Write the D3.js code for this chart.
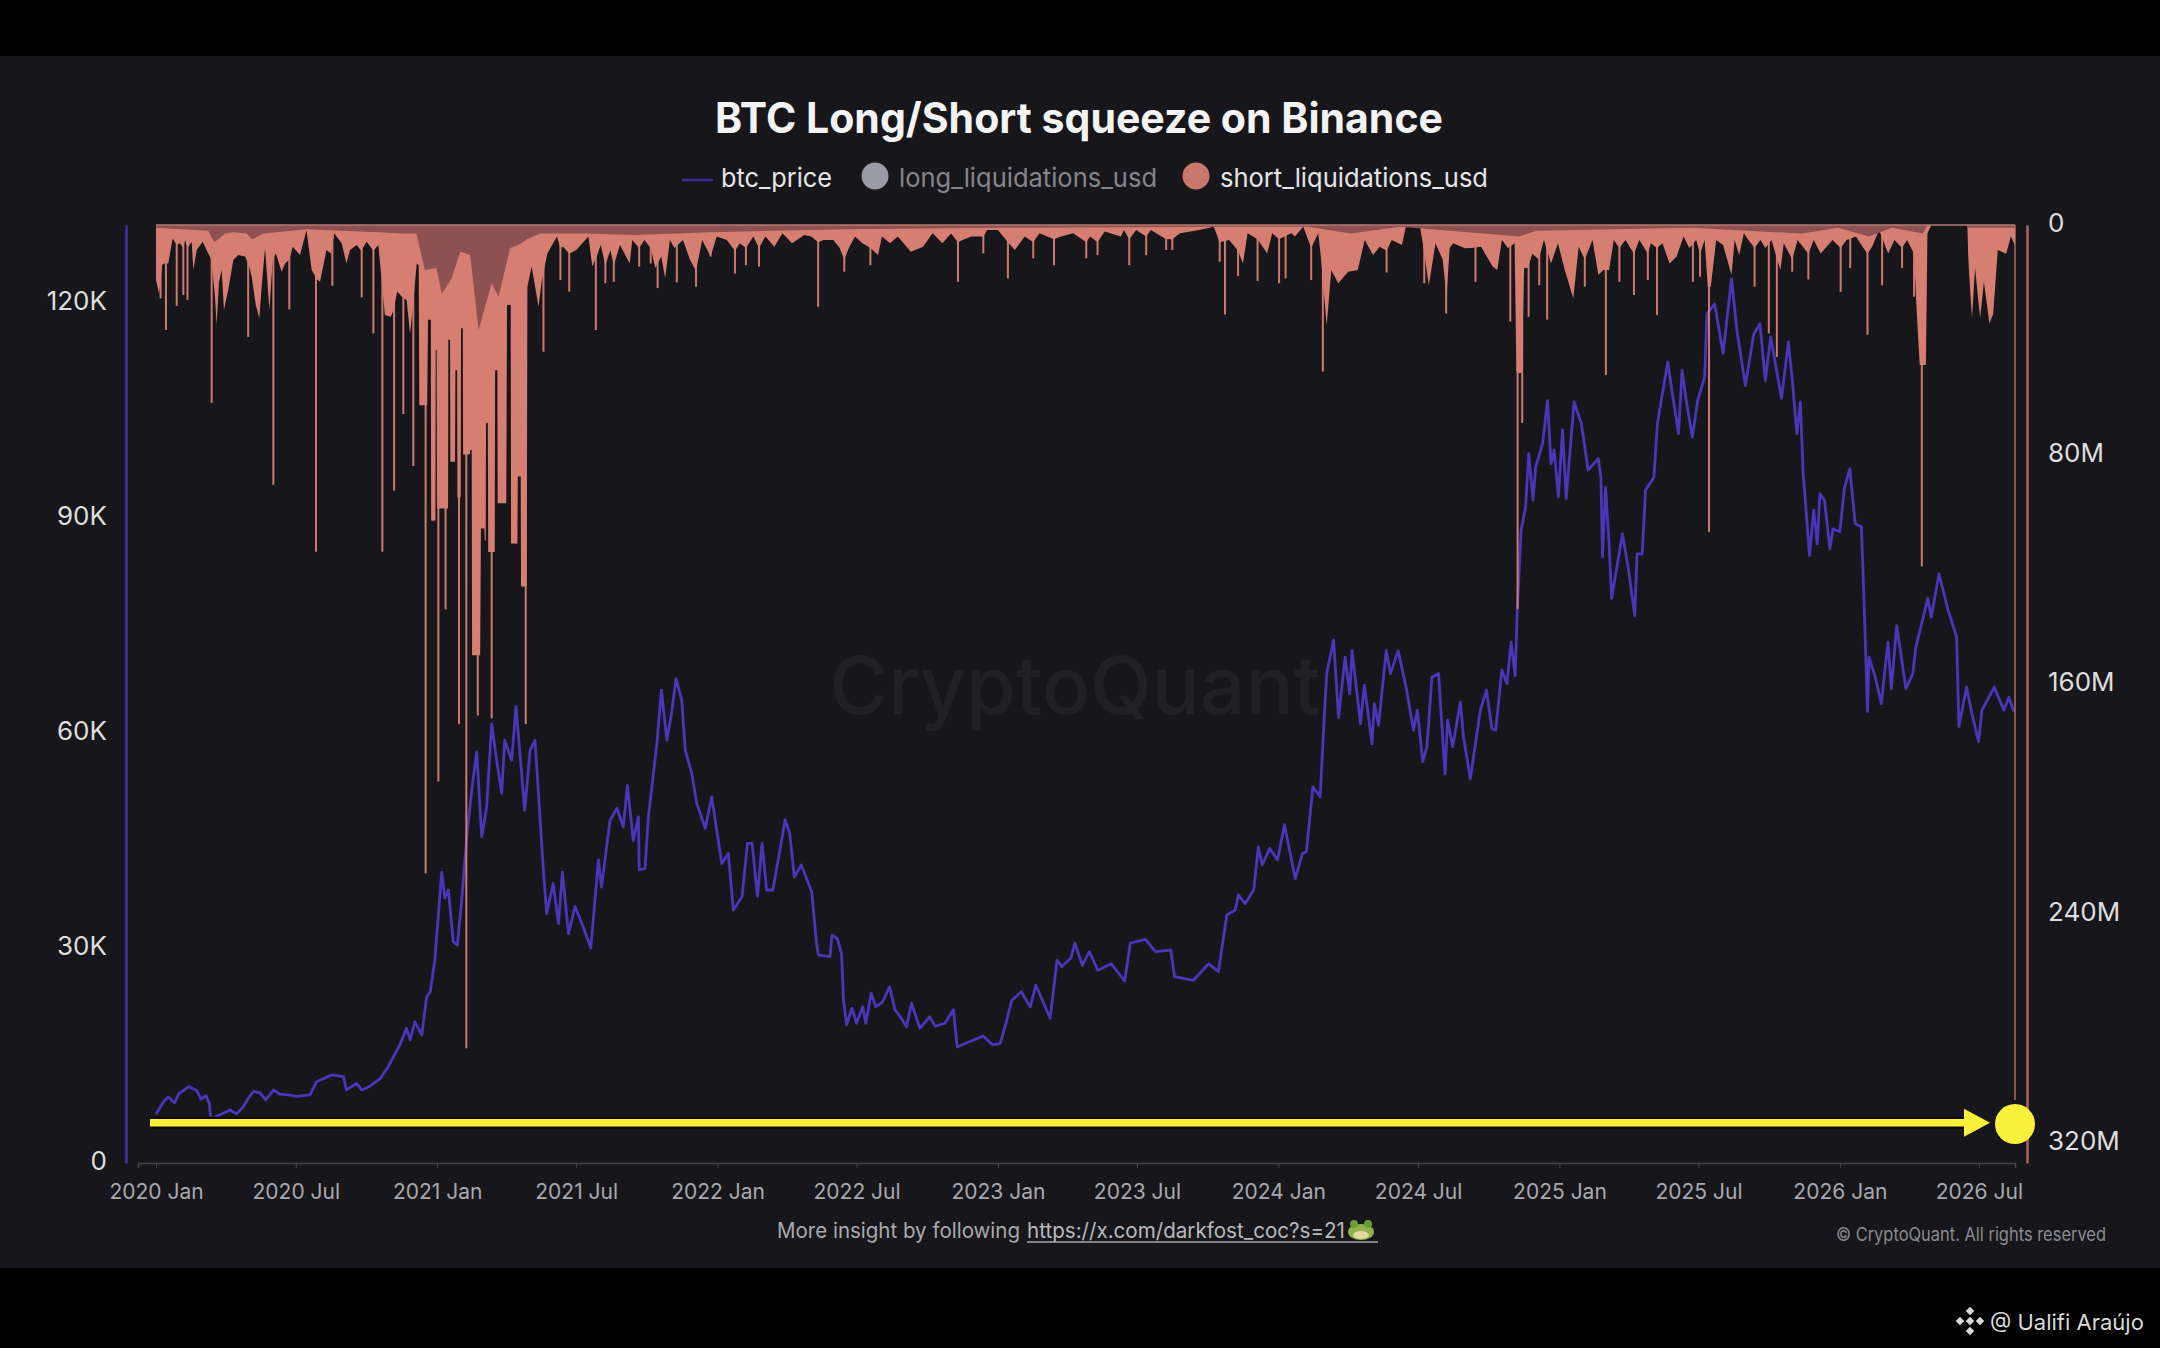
<!DOCTYPE html>
<html>
<head>
<meta charset="utf-8">
<script src="https://cdn.jsdelivr.net/npm/d3@7"></script>
<style>
  html, body { margin: 0; padding: 0; background: #000; overflow: hidden; }
  text { font-family: Inter, Roboto, sans-serif; }
</style>
</head>
<body>
<div id="chart-container"></div>
<script>
// Values. Days are counted from 2020-01-01.
const firstDay = Date.UTC(2020, 0, 1);
const xTickMonths = [[2020,0],[2020,6],[2021,0],[2021,6],[2022,0],[2022,6],[2023,0],[2023,6],[2024,0],[2024,6],[2025,0],[2025,6],[2026,0],[2026,6]];
const priceTicks = [0, 30000, 60000, 90000, 120000];
const liqTicks = [0, 80, 160, 240, 320];

// btc_price: [day, thousand USD]
const btcPrice = [[0,6.8],[10,8.6],[16,9.2],[24,8.4],[30,9.7],[43,10.65],[53,10.1],[59,8.9],[65,9.4],[69.5,8.3],[72,5.2],[78,6.5],[85.5,6.85],[96.4,7.4],[105,6.85],[114,7.9],[120,9],[127,10],[135.4,9.8],[143,8.8],[153,10.2],[161.5,9.6],[172,9.5],[183,9.3],[200.5,9.5],[209,11.35],[229,12.3],[244,12.05],[248,10.2],[261,11.1],[268,10.2],[279,10.75],[292,11.8],[302,13.4],[309,14.8],[317.6,16.5],[326,18.8],[331,17.2],[337,19.7],[346,17.9],[352.4,23.2],[357,23.9],[363,28.3],[372,40.6],[376,37],[380.6,38.1],[387,30.9],[392.3,30.4],[398,36.7],[405,46],[411,52],[417.5,57.4],[424,45.5],[430.5,49.7],[437,61.3],[443.5,56.2],[450,51.6],[454,59],[463,56.2],[468.7,63.7],[480,49.2],[487,57.6],[493.4,59],[504,41.3],[508.6,34.8],[517,39],[524,33.4],[529,40.6],[537,32],[545.5,35.8],[556,33],[566,30],[576,42.3],[580,38.5],[591,47.8],[600,49.5],[608.4,46.9],[613.6,52.7],[621.4,45],[628,48.3],[629,40.9],[636.6,41.1],[641,48.3],[652,58.5],[658,66],[665,59],[671,62.7],[677,67.6],[684.4,64.6],[689,57.6],[697.4,54.4],[704,50.2],[715,46.7],[723.4,51.1],[730,46.4],[736.5,41.8],[745,43.2],[751.6,35.3],[763,37.2],[770,44.6],[776,44.6],[783,37.2],[789,44.6],[795,38.1],[803,38.1],[810,42.3],[819,47.9],[825,46],[831,39.9],[840,41.6],[853.5,37.9],[860,30.6],[862.5,29],[877.4,28.8],[880,31.8],[887,31.3],[892.4,29.2],[895,22.7],[899,19.3],[906,21.6],[912,19.5],[920,21.8],[924,19.5],[931,23.7],[937,21.8],[946,22.5],[955,24.6],[962,21.4],[970,20.2],[977,19],[983.5,22.3],[994.5,18.8],[1007,20.4],[1014.4,19.1],[1027,19.5],[1038,21.4],[1043,16.2],[1054,16.7],[1077,17.7],[1089,16.5],[1099,16.7],[1106.5,19.5],[1114,22.7],[1126.4,23.9],[1138,21.8],[1145.4,24.8],[1164,20.2],[1173,28.3],[1179,27.4],[1191,28.6],[1196,30.7],[1206,27.6],[1215,29.5],[1226,26.9],[1243.5,27.8],[1261,25.4],[1268.4,30.7],[1288,31.2],[1301,29.5],[1321,29.7],[1326,26],[1350.5,25.5],[1370.4,27.8],[1383,26.7],[1394,34.6],[1405,35.3],[1409,37.4],[1418,36.2],[1429,38.1],[1435,44.1],[1440,41.6],[1450,43.9],[1460,42.3],[1469,47.2],[1483,39.7],[1492.5,43.2],[1497.5,43.4],[1506,52.5],[1515.5,51.1],[1521,62.7],[1524,68.3],[1533,73],[1539.4,62.2],[1548,70.6],[1554,65.5],[1557,71.5],[1568,61.3],[1573,66.7],[1583,58.5],[1586,64.1],[1591.5,61.1],[1601.5,71.5],[1607,68.3],[1617,71.5],[1628,66],[1637,60.4],[1642,63.2],[1649,56],[1654.4,58],[1661,67.8],[1669.6,68.3],[1678,54.3],[1681.3,61.8],[1688,58.1],[1698,64.3],[1702,59.5],[1711,53.6],[1724,63.2],[1732,66],[1739,60.6],[1744,60.4],[1752,68.8],[1758.6,66.9],[1764,72.7],[1769.4,68],[1772,77.1],[1777,88.3],[1783,91.6],[1787,99],[1792.6,92.5],[1796,97.1],[1805,100.4],[1811.5,106.4],[1816,97.6],[1820,99.5],[1825.6,93],[1831,102.3],[1835.7,92.7],[1846,106.2],[1855.5,103.2],[1864.3,96.7],[1877.5,98.3],[1881,95.7],[1883,84.6],[1887,94.3],[1891.6,86.4],[1895,78.8],[1909,87.8],[1917,82.7],[1925,76.4],[1928,85],[1934.7,85],[1939,93.9],[1950,95.7],[1954.5,103.2],[1968,111.8],[1972,108.8],[1982,101.8],[1986.6,110.6],[1992,106.4],[2000,101.3],[2007,106.4],[2016,109.7],[2019,118.5],[2029,119.9],[2040,113],[2051,123.4],[2058,116.2],[2069,108.5],[2080,115.7],[2088,117.1],[2095,109.2],[2102,115.3],[2116,106.7],[2125,114.6],[2130.5,108.8],[2136,101.8],[2140.6,106.2],[2144,96.7],[2152.5,84.8],[2158,91.1],[2162.6,86.4],[2166,93.4],[2172,92.5],[2179,85.7],[2183,88.5],[2192,88.1],[2197.8,94.1],[2205,96.9],[2212,89.2],[2220,88.8],[2223,80],[2228,63],[2230,70.6],[2238,67.8],[2246,64.1],[2254.6,72.7],[2259,66.2],[2266,75],[2278,66.2],[2287,68.3],[2291,72],[2306.5,78.8],[2311,76.2],[2321,82.2],[2333,77.1],[2344,73.4],[2347,60.9],[2357,66.4],[2364,62.7],[2372.5,58.8],[2377,63.2],[2393,66.4],[2405.5,63.2],[2412,65],[2418.7,63]];

// short_liquidations_usd, million USD: the everyday level, [day, value]
const shortLevel = [[0,19],[4,24],[8,14],[10.4,13.4],[16,13.4],[21.7,4.7],[27,7],[31,6.4],[35.6,8],[37.8,5.2],[41,8],[46.5,5.8],[48.6,15.7],[53,8.7],[60.8,5.8],[68,9.9],[72,12],[76.8,25],[79,34.9],[82,20],[85.5,15.7],[88.5,29.6],[94,22.7],[100.7,12.2],[107,10.5],[116,11],[121,14],[124.6,18],[130,28],[134.6,32.5],[138,20],[142,8.1],[147.6,29.6],[152,12],[156,9.9],[163.6,16.3],[168,13.4],[173.6,12],[178,7.6],[187.5,10.5],[196,1.8],[202.7,15.7],[210,19],[213.5,19.8],[222,8.7],[228,10],[232,2.9],[241.7,6.4],[248,13.4],[252.6,8.7],[261.3,7],[267,9],[274.3,5.8],[283,9],[289.5,7],[298,31.4],[305.5,32],[309,30],[314,23.2],[320,25],[326.4,26.2],[330.7,37.8],[334,30],[339.4,13.4],[342,14],[342.8,62.8],[353,62.8],[354.2,33],[357.8,33],[358.2,103],[363.8,103],[364.2,43.6],[365.4,43.6],[365.8,98.8],[380.2,98.8],[380.6,40],[382.8,40],[383.2,82.5],[389.3,82.5],[389.8,50.6],[392,50.6],[392.4,95],[396.7,95],[397.1,36],[399.4,36],[399.8,80],[408.5,80],[409,78.4],[411,78.4],[411.5,150],[422,150],[423,105.8],[427.5,105.8],[428,110],[429.2,110],[429.7,69],[432,69],[432.5,114],[441,114],[441.5,50.6],[444.4,50.6],[444.8,97],[456,97],[457,27.9],[461.8,27.9],[462.2,111],[470.5,111],[471,87.7],[474.8,87.7],[475.2,126],[482.6,126],[483.5,21.5],[489,14.5],[498,28.5],[502,20],[509.5,9.9],[522,4],[526.5,8],[530,7.6],[538,10],[547,8.7],[563,4],[568,14.5],[575,10],[579,7],[585,14],[591.5,8.7],[596,14],[604,7],[616.7,13.4],[620,5.2],[629,8],[635.7,5.2],[644,8],[650,15],[657.8,11],[662.8,18.6],[669,5.2],[675,8],[686,5.2],[695,12],[703,16],[711,5.2],[722,11],[730,4],[743,5.2],[753.7,9],[760,6.4],[768,8],[777.6,4],[785,8],[793.4,4],[805,7.6],[815.5,2.9],[828,6.4],[844,3.5],[853,4],[862,6],[869,5.2],[881.8,5.2],[890,8],[896,12],[902,8],[910,4],[919.6,6.4],[930,8],[940,10.5],[945,4],[955.6,6.4],[965.7,4],[982.7,9.3],[998.5,7.6],[1011,2.9],[1023.7,6.4],[1035,3],[1044,6],[1050,5.2],[1061.6,4],[1077,4],[1082,1.7],[1096,1.7],[1109,6],[1118,8.7],[1131,4],[1142,6],[1150,2.9],[1169,5],[1178,4],[1194,2.9],[1211,6],[1216,4],[1225.7,6],[1235,2.3],[1256,4],[1260,1.7],[1267,5],[1276,1.7],[1289,4],[1295,1.7],[1315,5],[1323,5],[1333,2.9],[1358,1.7],[1377,0.6],[1384.7,6],[1397,5.2],[1408.6,9],[1415,13.4],[1421,2.9],[1434,5],[1446.5,9.9],[1453,2.9],[1462,5],[1478,2.9],[1482.6,4],[1493.5,0.6],[1503.8,8],[1513,2.9],[1516,10],[1524,35],[1530,15.7],[1539,20.3],[1552,16.3],[1564.4,15.7],[1573.5,5.2],[1584.4,10.5],[1593,7.6],[1602,9],[1608.6,5.2],[1622,7],[1627,0.6],[1628,0],[1645,0],[1645.5,0.6],[1650,8],[1657,21],[1665.6,6.4],[1675,12],[1680,25],[1684,8],[1688.6,6.4],[1703.8,8.1],[1712,8],[1725,7.6],[1740,14.5],[1746,15.7],[1752,5.2],[1760,8],[1768.6,6.4],[1771,51.6],[1778,51.6],[1781,15],[1786,15],[1791.6,10],[1800,12],[1806.8,5.2],[1816,13.4],[1825,6.4],[1834,15.7],[1845,25.6],[1852,7.6],[1860,12],[1870,5.2],[1877.7,17.4],[1884,15.7],[1891.6,15.7],[1897.7,5.2],[1905,8],[1913,5.2],[1924,10],[1931,5.2],[1942,10],[1946,6.4],[1954,8],[1961,6.4],[1970.4,13.4],[1979.5,11],[1988.6,4],[1996,8],[2005,5.2],[2010,10],[2016,5.2],[2020,21.5],[2024,21.5],[2031,5.2],[2040,7],[2051,17.4],[2055,5.2],[2061,10.5],[2067,2.9],[2073,5.2],[2081,8],[2088.6,5.2],[2095,8],[2103,5.2],[2114.6,15.7],[2119,6.4],[2130,12],[2137,5.2],[2151,10],[2158,5.2],[2167,9.9],[2182.5,5.2],[2193,8],[2200.7,5.2],[2213,4],[2220,7],[2228,10],[2234,7.6],[2243,1.7],[2255,9.9],[2263,5.2],[2273,8],[2279.5,5.2],[2288.6,10],[2292,30],[2296,48.8],[2304,48.8],[2306,3],[2311,0],[2358,0],[2359,10],[2360,15.7],[2364,32.5],[2368,15],[2374.6,32.5],[2379.5,19.8],[2386.7,34.3],[2391.6,31],[2397.6,8.7],[2408.5,10],[2414.6,4],[2420,7]];

// short_liquidations_usd, million USD: single-day spikes, [day, value]
const shortSpikes = [[6,25.6],[13,36.6],[27,28.2],[35.6,24.4],[41,26.1],[72.5,62],[120,39],[152.8,90.6],[173.6,29.4],[208.3,113.9],[229.6,21.2],[267.8,25.2],[283,37.8],[294.7,113.9],[310,92.6],[322,65.9],[335,84],[351,226],[361,103],[367.6,194],[377,134],[394.5,174],[404,287],[418.9,171],[437,172],[468.3,111],[481.3,174],[504.4,44.2],[526.5,19.2],[538,23.2],[572.6,36.6],[585,20.3],[596,19.8],[629,14.5],[644,13.4],[653,22],[678,20],[703,21.5],[722,11],[753.7,16.9],[768,14],[785,14.5],[862,28.5],[896,16.3],[930,14],[1044,19.8],[1077,9.9],[1109,18.6],[1142,11.6],[1169,14],[1211,11.6],[1225.7,10.5],[1267,14],[1289,10.5],[1315,8.7],[1323,8.7],[1384.7,12.8],[1391.6,31.2],[1408.6,17.8],[1434,19.5],[1462,20.3],[1470.5,18.6],[1503.8,19.2],[1519,51.1],[1602,16.6],[1651,20.3],[1679.5,30.8],[1717.7,19.8],[1763,33.7],[1772.5,134],[1778.5,69],[1786.8,32],[1800.7,21],[1811,33],[1860,21.5],[1887.4,52.3],[1905,19.8],[1924,24.4],[1942,19.2],[1954,31.4],[2000.7,19.8],[2010,18],[2021.7,107],[2081,21.5],[2099.5,37.8],[2110,46],[2130,16.3],[2151,19],[2193,23.3],[2205.5,15],[2228,38.3],[2247,21],[2273,15],[2288.6,25],[2298.7,119],[2420,305]];

// short_liquidations_usd, million USD: the quietest level, the darker band under the top edge
const shortFloor = [[0,1],[68,2],[76,6],[90,3],[100,2.5],[118,3],[125,5],[140,3],[196,1.5],[240,2],[290,2.5],[322,3],[339,3],[350,15.7],[365,15],[372,24],[385,18.6],[396,9.3],[409,10.5],[420,36.6],[437,20.3],[446,25],[461,8],[472,7],[483,5],[500,3],[560,3],[620,3.5],[680,3],[720,2.5],[800,2],[900,1.5],[1000,1.2],[1100,1],[1400,0.6],[1500,0.6],[1555,3],[1620,0.6],[1775,4],[1797,2],[2000,1],[2143,3],[2190,1],[2230,4],[2260,1],[2300,3],[2306,0],[2358,0],[2359,1],[2420,1]];

const width = 2160;
const height = 1348;

// Create SVG element
var svg = d3.select("#chart-container")
    .append("svg")
    .attr("width", width)
    .attr("height", height);

// Dark panel between the black bands
svg.append("rect")
    .attr("x", 0)
    .attr("y", 56)
    .attr("width", width)
    .attr("height", 1212)
    .attr("fill", "#17171b");

// Define scales
var x = d3.scaleUtc()
    .domain([dayToDate(-23.4), dayToDate(2420)])
    .range([138, 2015]);

var yPrice = d3.scaleLinear()
    .domain([0, 130900])
    .range([1163, 225]);

var yLiq = d3.scaleLinear()
    .domain([0, 327])
    .range([225, 1163]);

function dayToDate(day) {
    return new Date(firstDay + day * 86400000);
}

// Watermark
svg.append("text")
    .attr("x", 1075)
    .attr("y", 714)
    .attr("text-anchor", "middle")
    .attr("font-size", 80)
    .attr("font-weight", 500)
    .attr("fill", "#212125")
    .text("CryptoQuant");

// Title
svg.append("text")
    .attr("x", 715)
    .attr("y", 133)
    .attr("font-size", 42)
    .attr("font-weight", 700)
    .attr("fill", "#f4f4f4")
    .attr("textLength", 728)
    .attr("lengthAdjust", "spacingAndGlyphs")
    .text("BTC Long/Short squeeze on Binance");

// Legend
svg.append("line")
    .attr("x1", 682).attr("x2", 713)
    .attr("y1", 180).attr("y2", 180)
    .attr("stroke", "#3d2f96")
    .attr("stroke-width", 2.5);

svg.append("text")
    .attr("x", 721).attr("y", 187)
    .attr("font-size", 26).attr("fill", "#e6e6e6")
    .attr("textLength", 111).attr("lengthAdjust", "spacingAndGlyphs")
    .text("btc_price");

svg.append("circle")
    .attr("cx", 875).attr("cy", 176)
    .attr("r", 13.5).attr("fill", "#9b9ba6");

svg.append("text")
    .attr("x", 899).attr("y", 187)
    .attr("font-size", 26).attr("fill", "#85858b")
    .attr("textLength", 258).attr("lengthAdjust", "spacingAndGlyphs")
    .text("long_liquidations_usd");

svg.append("circle")
    .attr("cx", 1196).attr("cy", 176)
    .attr("r", 13.5).attr("fill", "#c8776c");

svg.append("text")
    .attr("x", 1220).attr("y", 187)
    .attr("font-size", 26).attr("fill", "#e6e6e6")
    .attr("textLength", 268).attr("lengthAdjust", "spacingAndGlyphs")
    .text("short_liquidations_usd");

// btc_price line, under the liquidations
var priceLine = d3.line()
    .x(d => x(dayToDate(d[0])))
    .y(d => yPrice(d[1] * 1000));

svg.append("path")
    .datum(btcPrice)
    .attr("fill", "none")
    .attr("stroke", "#4a36b8")
    .attr("stroke-width", 2.8)
    .attr("stroke-linejoin", "round")
    .attr("d", priceLine);

// Liquidations hang down from the top of the plot
var liqColor = "#d67e72";

var liqArea = d3.area()
    .x(d => x(dayToDate(d[0])))
    .y0(yLiq(0))
    .y1(d => yLiq(d[1]));

svg.append("path")
    .datum(shortLevel)
    .attr("fill", liqColor)
    .attr("d", liqArea);

svg.selectAll(".spike")
    .data(shortSpikes)
    .join("rect")
    .attr("class", "spike")
    .attr("x", d => x(dayToDate(d[0])) - 1)
    .attr("y", yLiq(0))
    .attr("width", 2)
    .attr("height", d => yLiq(d[1]) - yLiq(0))
    .attr("fill", liqColor)
    .attr("fill-opacity", d => d[1] > 300 ? 0.6 : 0.95);

svg.append("path")
    .datum(shortFloor)
    .attr("fill", "#8d5152")
    .attr("d", liqArea);

// Thin line along the top edge
svg.append("line")
    .attr("x1", x(dayToDate(0))).attr("x2", x(dayToDate(2420)))
    .attr("y1", yLiq(0)).attr("y2", yLiq(0))
    .attr("stroke", "#b57a72")
    .attr("stroke-width", 1.5);

// Add x-axis
var xAxis = svg.append("g")
    .attr("transform", "translate(0, 1163)")
    .call(d3.axisBottom(x)
        .tickValues(xTickMonths.map(m => new Date(Date.UTC(m[0], m[1], 1))))
        .tickFormat(d3.utcFormat("%Y %b"))
        .tickSize(5)
        .tickPadding(16));

xAxis.select(".domain").attr("stroke", "#44444a").attr("stroke-width", 1.5);
xAxis.selectAll(".tick line").attr("stroke", "#44444a");
xAxis.selectAll(".tick text")
    .attr("font-size", 21)
    .attr("fill", "#a9a9ad")
    .attr("font-family", "Inter, Roboto, sans-serif");

// Add left axis
var leftAxis = svg.append("g")
    .attr("transform", "translate(126, 0)")
    .call(d3.axisLeft(yPrice)
        .tickValues(priceTicks)
        .tickFormat(d => d === 0 ? "0" : (d / 1000) + "K")
        .tickSize(0)
        .tickPadding(19));

leftAxis.select(".domain").attr("stroke", "#4233a6").attr("stroke-width", 2.5);
leftAxis.selectAll(".tick text")
    .attr("font-size", 26)
    .attr("fill", "#dedede")
    .attr("font-family", "Inter, Roboto, sans-serif")
    .attr("dy", "0.26em");

// Add right axis
var rightAxis = svg.append("g")
    .attr("transform", "translate(2027, 0)")
    .call(d3.axisRight(yLiq)
        .tickValues(liqTicks)
        .tickFormat(d => d === 0 ? "0" : d + "M")
        .tickSize(0)
        .tickPadding(21));

rightAxis.select(".domain").attr("stroke", "#a9675f").attr("stroke-width", 2.5);
rightAxis.selectAll(".tick text")
    .attr("font-size", 26)
    .attr("fill", "#dedede")
    .attr("font-family", "Inter, Roboto, sans-serif")
    .attr("dy", "0.26em");

// Yellow arrow and dot marking the last spike
var yellow = "#fbf13b";
var arrowY = yPrice(5630);

svg.append("line")
    .attr("x1", 150).attr("x2", 1964)
    .attr("y1", arrowY).attr("y2", arrowY)
    .attr("stroke", "#0c0b05")
    .attr("stroke-width", 12);

svg.append("line")
    .attr("x1", 150).attr("x2", 1966)
    .attr("y1", arrowY).attr("y2", arrowY)
    .attr("stroke", yellow)
    .attr("stroke-width", 7.5);

svg.append("path")
    .attr("d", d3.line()([[1964, arrowY - 14], [1990, arrowY], [1964, arrowY + 14]]))
    .attr("fill", yellow);

svg.append("circle")
    .attr("cx", x(dayToDate(2420)))
    .attr("cy", yPrice(5440))
    .attr("r", 20)
    .attr("fill", yellow);

// Footer
svg.append("text")
    .attr("x", 777).attr("y", 1238)
    .attr("font-size", 21).attr("fill", "#a9a9ad")
    .attr("textLength", 243).attr("lengthAdjust", "spacingAndGlyphs")
    .text("More insight by following");

svg.append("text")
    .attr("x", 1027).attr("y", 1238)
    .attr("font-size", 21).attr("fill", "#b9b9bd")
    .attr("textLength", 318).attr("lengthAdjust", "spacingAndGlyphs")
    .text("https://x.com/darkfost_coc?s=21");

svg.append("line")
    .attr("x1", 1027).attr("x2", 1378)
    .attr("y1", 1242).attr("y2", 1242)
    .attr("stroke", "#a9a9ad")
    .attr("stroke-width", 1.5);

// Frog
svg.append("ellipse").attr("cx", 1361).attr("cy", 1232).attr("rx", 13).attr("ry", 8).attr("fill", "#8fb24a");
svg.append("ellipse").attr("cx", 1361).attr("cy", 1235).attr("rx", 8).attr("ry", 4).attr("fill", "#e3d9a0");
svg.append("circle").attr("cx", 1354).attr("cy", 1224).attr("r", 4).attr("fill", "#6f9a3a");
svg.append("circle").attr("cx", 1368).attr("cy", 1224).attr("r", 4).attr("fill", "#6f9a3a");

svg.append("text")
    .attr("x", 1836).attr("y", 1241)
    .attr("font-size", 18.5).attr("fill", "#8b8b90")
    .attr("textLength", 270).attr("lengthAdjust", "spacingAndGlyphs")
    .text("© CryptoQuant. All rights reserved");

// Author tag on the black band
var tag = svg.append("g")
    .attr("transform", "translate(1970, 1321)")
    .attr("fill", "#d8d8d8");

[[0, -10], [10, 0], [0, 10], [-10, 0], [0, 0]].forEach(function (p) {
    tag.append("rect")
        .attr("x", -3).attr("y", -3)
        .attr("width", 6).attr("height", 6)
        .attr("transform", `translate(${p[0]}, ${p[1]}) rotate(45)`);
});

svg.append("text")
    .attr("x", 1990).attr("y", 1330)
    .attr("font-size", 22)
    .attr("fill", "#d8d8d8")
    .attr("font-family", "'Noto Sans', sans-serif")
    .text("@ Ualifi Araújo");
</script>
</body>
</html>
